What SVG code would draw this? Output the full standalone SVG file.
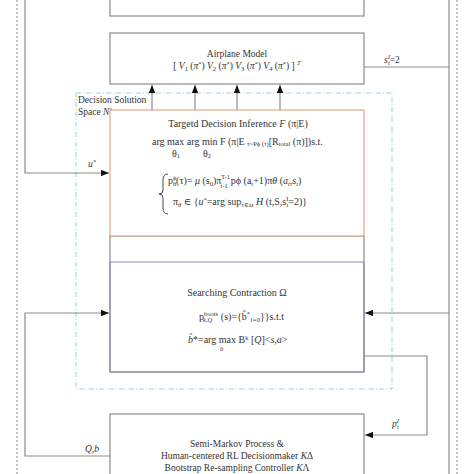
<svg xmlns="http://www.w3.org/2000/svg" width="474" height="474" viewBox="0 0 474 474">
<style>
text{font-family:"Liberation Serif","DejaVu Serif",serif;fill:#333;font-size:10px}
.c{text-anchor:middle}
.i{font-style:italic}
.s{font-size:6.5px}
.m{font-size:9.5px}
.box{fill:#fff;stroke:#8c8c8c;stroke-width:1.2}
.ln{fill:none;stroke:#8c8c8c;stroke-width:1.2}
</style>
<defs>
<marker id="ah" viewBox="0 0 10 8" refX="10" refY="4" markerWidth="8" markerHeight="6.4" markerUnits="userSpaceOnUse" orient="auto">
<path d="M0,0L10,4L0,8z" fill="#111"/>
</marker>
</defs>
<rect width="474" height="474" fill="#fff"/>
<line x1="17" y1="0" x2="17" y2="474" stroke="#999" stroke-width="1.2" stroke-dasharray="2,2"/>
<line x1="457" y1="0" x2="457" y2="474" stroke="#999" stroke-width="1.2" stroke-dasharray="2,2"/>
<g id="decision-space">
<rect x="76" y="93" width="316" height="296" fill="none" stroke="#9ccfe0" stroke-width="1" stroke-dasharray="5,2,1,2"/>
<text x="78" y="103" class="m">Decision Solution</text>
<text x="78" y="115" class="m">Space <tspan class="i">N</tspan><tspan class="s" dy="-3">1</tspan></text>
</g>
<g id="connectors">
<line class="ln" x1="449" y1="0" x2="449" y2="474"/>
<line class="ln" x1="364" y1="67" x2="449" y2="67"/>
<line class="ln" x1="152" y1="110" x2="152" y2="85" marker-end="url(#ah)"/>
<line class="ln" x1="195" y1="110" x2="195" y2="85" marker-end="url(#ah)"/>
<line class="ln" x1="237" y1="110" x2="237" y2="85" marker-end="url(#ah)"/>
<line class="ln" x1="280" y1="110" x2="280" y2="85" marker-end="url(#ah)"/>
<polyline class="ln" points="25,0 25,173 109,173" marker-end="url(#ah)"/>
<polyline class="ln" points="110,456 25,456 25,313 109,313" marker-end="url(#ah)"/>
<line class="ln" x1="449" y1="313" x2="365" y2="313" marker-end="url(#ah)"/>
<polyline class="ln" points="364,356 427,356 427,435 365,435" marker-end="url(#ah)"/>
<line x1="237" y1="249" x2="237" y2="238" stroke="#111" stroke-width="1.2" marker-end="url(#ah)"/>
<line x1="237" y1="249" x2="237" y2="261" stroke="#111" stroke-width="1.2" marker-end="url(#ah)"/>
<text x="384" y="63" class="i m">s<tspan class="s" dy="-4">I</tspan><tspan class="s" dx="-2" dy="6">t</tspan><tspan dy="-2" style="font-style:normal">=2</tspan></text>
<text x="88" y="167" class="i m">u<tspan class="s" dy="-3">*</tspan></text>
<text x="85" y="452" class="i m">Q,b</text>
<text x="392" y="427" class="i m">p<tspan class="s" dy="-4">I</tspan><tspan class="s" dx="-2" dy="6">t</tspan></text>
</g>
<g id="top-box">
<rect class="box" x="110" y="-2" width="254" height="18"/>
</g>
<g id="airplane-model">
<rect class="box" x="110" y="33" width="254" height="51"/>
<text class="c m" x="237" y="57">Airplane Model</text>
<text class="c m" x="237" y="69">[ <tspan class="i">V</tspan><tspan class="s" dy="2">1</tspan><tspan dy="-2"> (</tspan><tspan class="i">π</tspan><tspan class="s" dy="-3">*</tspan><tspan dy="3">) </tspan><tspan class="i">V</tspan><tspan class="s" dy="2">2</tspan><tspan dy="-2"> (</tspan><tspan class="i">π</tspan><tspan class="s" dy="-3">*</tspan><tspan dy="3">) </tspan><tspan class="i">V</tspan><tspan class="s" dy="2">3</tspan><tspan dy="-2"> (</tspan><tspan class="i">π</tspan><tspan class="s" dy="-3">*</tspan><tspan dy="3">) </tspan><tspan class="i">V</tspan><tspan class="s" dy="2">4</tspan><tspan dy="-2"> (</tspan><tspan class="i">π</tspan><tspan class="s" dy="-3">*</tspan><tspan dy="3">) ] </tspan><tspan class="s i" dy="-4">T</tspan></text>
</g>
<g id="search-wrapper">
<rect x="110" y="236" width="254" height="136" fill="#fff" stroke="#8c8c8c" stroke-width="1.2"/>
</g>
<g id="targeted-decision-inference">
<rect x="110" y="110" width="254" height="126" fill="#fff" stroke="#e2a88a" stroke-width="1.2"/>
<text class="c" x="238" y="127">Targetd Decision Inference <tspan class="i">F</tspan> (π|E)</text>
<text x="152" y="145">arg max arg min F (π|E <tspan class="s" dy="1">τ~Pϕ (τ)</tspan><tspan dy="-1">[R</tspan><tspan class="s" dy="1">total</tspan><tspan dy="-1"> (π)])s.t.</tspan></text>
<text x="172" y="157">θ<tspan class="s" dy="1">1</tspan></text>
<text x="203" y="157">θ<tspan class="s" dy="1">2</tspan></text>
<path d="M168,174 Q163,174 163,180 L163,190 Q163,194 159,194 Q163,194 163,198 L163,208 Q163,214 168,214" fill="none" stroke="#333" stroke-width="0.9"/>
<text x="168" y="184">p<tspan class="s" dy="-4">ϕ</tspan><tspan class="s" dx="-3.5" dy="6">θ</tspan><tspan dy="-2">(τ)= </tspan><tspan class="i">μ</tspan> (s<tspan class="s" dy="2">0</tspan><tspan dy="-2">)π</tspan><tspan class="s" dy="-5">T-1</tspan><tspan class="s" dx="-9.5" dy="9">t-1</tspan><tspan dx="3" dy="-4">pϕ (a</tspan><tspan class="s" dy="2">t</tspan><tspan dy="-2">+1)π</tspan><tspan class="i">θ</tspan> (<tspan class="i">a</tspan><tspan class="s i" dy="2">t</tspan><tspan class="i" dy="-2">,s</tspan><tspan class="s i" dy="2">t</tspan><tspan dy="-2">)</tspan></text>
<text x="173" y="205">π<tspan class="s i" dy="2">θ</tspan><tspan dy="-2"> ∈ {</tspan><tspan class="i">u</tspan><tspan class="s" dy="-3">*</tspan><tspan dy="3">=arg sup</tspan><tspan class="s" dy="2">τ∈at</tspan><tspan class="i" dy="-2"> H</tspan> (t,S,s<tspan class="s" dy="-4">I</tspan><tspan class="s" dx="-2" dy="6">t</tspan><tspan dy="-2">=2)}</tspan></text>
</g>
<g id="searching-contraction">
<line x1="110" y1="262" x2="364" y2="262" stroke="#8e8cb4" stroke-width="1.2"/>
<line x1="110" y1="372" x2="364" y2="372" stroke="#8e8cb4" stroke-width="1.2"/>
<line x1="110" y1="262" x2="110" y2="372" stroke="#8e8cb4" stroke-width="1.2"/>
<line x1="364" y1="262" x2="364" y2="372" stroke="#8e8cb4" stroke-width="1.2"/>
<text class="c" x="237" y="296">Searching Contraction Ω</text>
<text x="199" y="320">p<tspan class="s" dy="-4">boots</tspan><tspan class="s i" dx="-15" dy="6">k,Q</tspan><tspan dx="6" dy="-2"> (s)={</tspan>b̂<tspan class="s" dy="-4">*</tspan><tspan class="s i" dx="0.5" dy="6">i=0</tspan><tspan dy="-2">}}s.t.t</tspan></text>
<text x="188" y="343"><tspan class="i">b̂</tspan>*=arg max B<tspan class="s" dy="-3">k</tspan><tspan dy="3"> [</tspan><tspan class="i">Q</tspan>]&lt;<tspan class="i">s,a</tspan>&gt;</text>
<text class="s i" x="220" y="351">b</text>
</g>
<g id="semi-markov">
<rect class="box" x="110" y="414" width="254" height="64"/>
<text class="c m" x="237" y="447">Semi-Markov Process &amp;</text>
<text class="c m" x="237" y="459">Human-centered RL Decisionmaker <tspan class="i">K</tspan>Δ</text>
<text class="c m" x="237" y="471">Bootstrap Re-sampling Controller <tspan class="i">K</tspan>Λ</text>
</g>
</svg>
